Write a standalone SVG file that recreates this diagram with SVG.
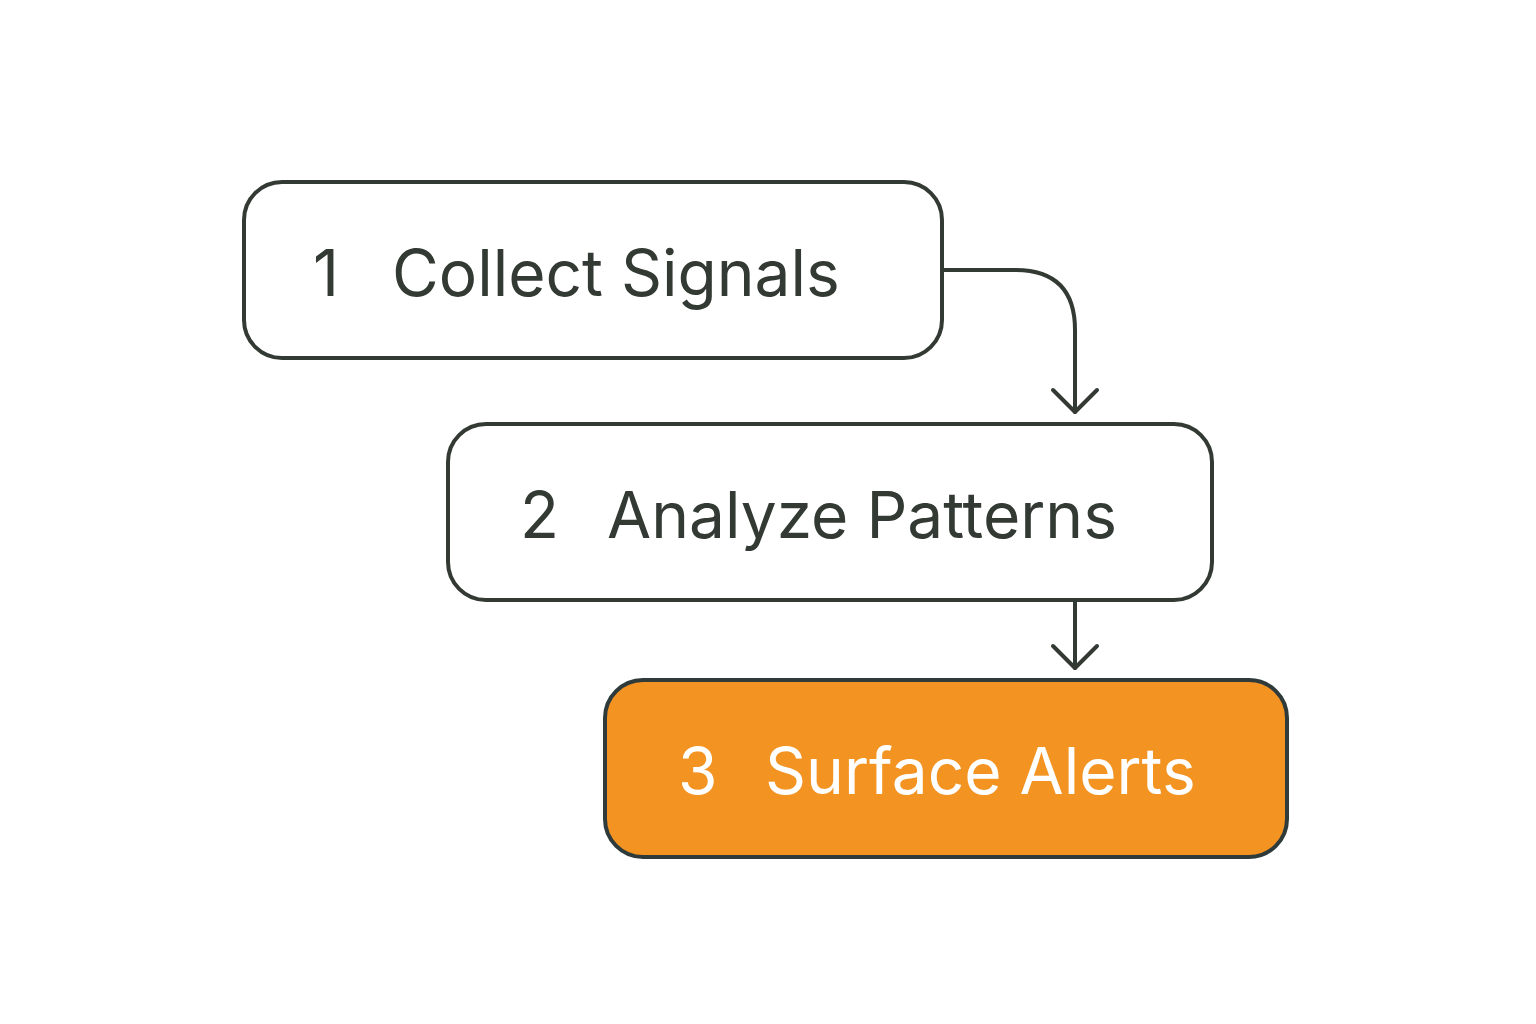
<svg xmlns="http://www.w3.org/2000/svg" width="1536" height="1024" viewBox="0 0 1536 1024">
<style>
.box{fill:#fff;stroke:#333a33;stroke-width:4}
.hl{fill:#f39322;stroke:#2f3a3a;stroke-width:4}
.t{font-family:Inter,"Open Sans",sans-serif;font-size:64px;fill:#333a33}
.w{fill:#fff}
.c{fill:none;stroke:#333a33;stroke-width:4;stroke-linecap:round;stroke-linejoin:round}
</style>
<rect width="1536" height="1024" fill="#fff"/>
<g id="n1"><rect class="box" x="244" y="182" width="698" height="176" rx="38"/><text class="t" x="313" y="296">1</text><text class="t" x="392" y="296">Collect Signals</text></g>
<g id="n2"><rect class="box" x="448" y="424" width="764" height="176" rx="38"/><text class="t" x="520" y="538">2</text><text class="t" x="607" y="538">Analyze Patterns</text></g>
<g id="n3"><rect class="hl" x="605" y="680" width="682" height="177" rx="38"/><text class="t w" x="678" y="794">3</text><text class="t w" x="765" y="794">Surface Alerts</text></g>
<g id="connectors">
<path class="c" d="M944 270 H1015 Q1075 270 1075 330 V412"/>
<path class="c" d="M1053 390 L1075 412 L1097 390"/>
<path class="c" d="M1075 602 V668"/>
<path class="c" d="M1053 646 L1075 668 L1097 646"/>
</g>
</svg>
